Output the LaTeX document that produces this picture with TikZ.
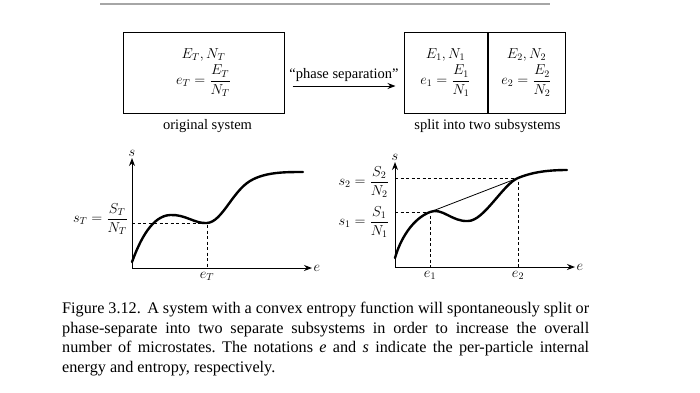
\documentclass[tikz,border=0pt]{standalone}
\usepackage{amsmath}
\usepackage{fontspec}
\setmainfont{Liberation Serif}
\usetikzlibrary{arrows.meta,positioning}

\tikzset{
	boxpart/.style={draw,line width=1pt,minimum height=81pt,inner sep=0pt,align=center,font=\fontsize{14}{16}\selectfont},
	curve/.style={line width=2.4pt,line cap=round},
	guide/.style={dash pattern=on 3pt off 2.5pt,line width=0.7pt},
	axis/.style={line width=1pt,-{Stealth[length=8pt,width=6pt]}},
	lbl/.style={font=\fontsize{14}{16}\selectfont,inner sep=1pt},
	boxlbl/.style={font=\fontsize{14.5}{16}\selectfont,inner sep=0pt}
}

\begin{document}
\begin{tikzpicture}[x=1pt,y=1pt]
	\useasboundingbox (0,0) rectangle (700,-392);
	\draw[gray!70,line width=2.6pt] (100,-4) -- (550,-4);

	% the two systems
	\node[boxpart,minimum width=161pt] (orig) at (203.5,-72.5)
		{$E_T,N_T$\\[3pt]$e_T=\dfrac{E_T}{N_T}$};
	\node[boxpart,minimum width=83pt] (sub1) at (445.5,-72.5)
		{$E_1,N_1$\\[3pt]$e_1=\dfrac{E_1}{N_1}$};
	\node[boxpart,minimum width=77pt,right=0pt of sub1] (sub2)
		{$E_2,N_2$\\[3pt]$e_2=\dfrac{E_2}{N_2}$};
	\node[boxlbl,below=6pt of orig,xshift=4pt] (origlab) {original system};
	\node[boxlbl,below=6pt of sub1.south east] (splitlab) {split into two subsystems};
	\draw[axis] ([xshift=8pt,yshift=-13.5pt]orig.east) -- node[boxlbl,above=4pt] (phlab) {``phase separation''} ([xshift=-8pt,yshift=-13.5pt]sub1.west);

	% single system entropy
	\coordinate (O1) at (132,-268);
	\draw[axis] (O1) -- ++(0,110) node[lbl,above=0pt] (s1ax) {$s$};
	\draw[axis] (O1) -- ++(180,0) node[lbl,right=0pt] (e1ax) {$e$};
	\coordinate (T) at (207,-223);
	\draw[guide] (O1 |- T) -- (T) -- (O1 -| T) node[lbl,below=3pt] (eTlab) {$e_T$};
	\node[lbl,anchor=east] (sTlab) at (129,-219) {$s_T=\dfrac{S_T}{N_T}$};
	\draw[curve] (132,-262) .. controls (140,-240) and (152,-216) .. (170,-215)
		.. controls (185,-214) and (195,-224) .. (T)
		.. controls (222,-222) and (232,-192) .. (250,-181)
		.. controls (265,-172) and (285,-172) .. (303,-172);

	% split system entropy
	\coordinate (O2) at (395,-267);
	\draw[axis] (O2) -- ++(0,105) node[lbl,above=0pt] (s2ax) {$s$};
	\draw[axis] (O2) -- ++(180,0) node[lbl,right=0pt] (e2ax) {$e$};
	\coordinate (P1) at (430,-212);
	\coordinate (P2) at (518,-178);
	\foreach \p/\n in {P1/1,P2/2}
		\draw[guide] (O2 |- \p) -- (\p) -- (O2 -| \p) node[lbl,below=3pt] (e\n lab) {$e_\n$};
	\node[lbl,anchor=east] (s1lab) at (390,-222) {$s_1=\dfrac{S_1}{N_1}$};
	\node[lbl,anchor=east] (s2lab) at (390,-182) {$s_2=\dfrac{S_2}{N_2}$};
	\draw[line width=0.8pt] (P1) -- (P2);
	\draw[curve] (395,-258) .. controls (400,-240) and (412,-219) .. (P1)
		.. controls (442,-207) and (452,-222) .. (468,-221)
		.. controls (484,-221) and (503,-184) .. (P2)
		.. controls (530,-173) and (545,-170) .. (567,-170);

	% caption
	\node[anchor=north west,inner sep=0pt,text width=527pt,align=justify,
		font=\fontsize{16.2}{19.5}\selectfont] (caption) at (62,-302)
		{Figure 3.12.\hspace{0.4em}A system with a convex entropy function will spontaneously split or\linebreak
		phase-separate into two separate subsystems in order to increase the overall\linebreak
		number of microstates.\hspace{0.4em}The notations \textit{e} and \textit{s} indicate the per-particle internal\linebreak
		energy and entropy, respectively.};
\end{tikzpicture}
\end{document}
